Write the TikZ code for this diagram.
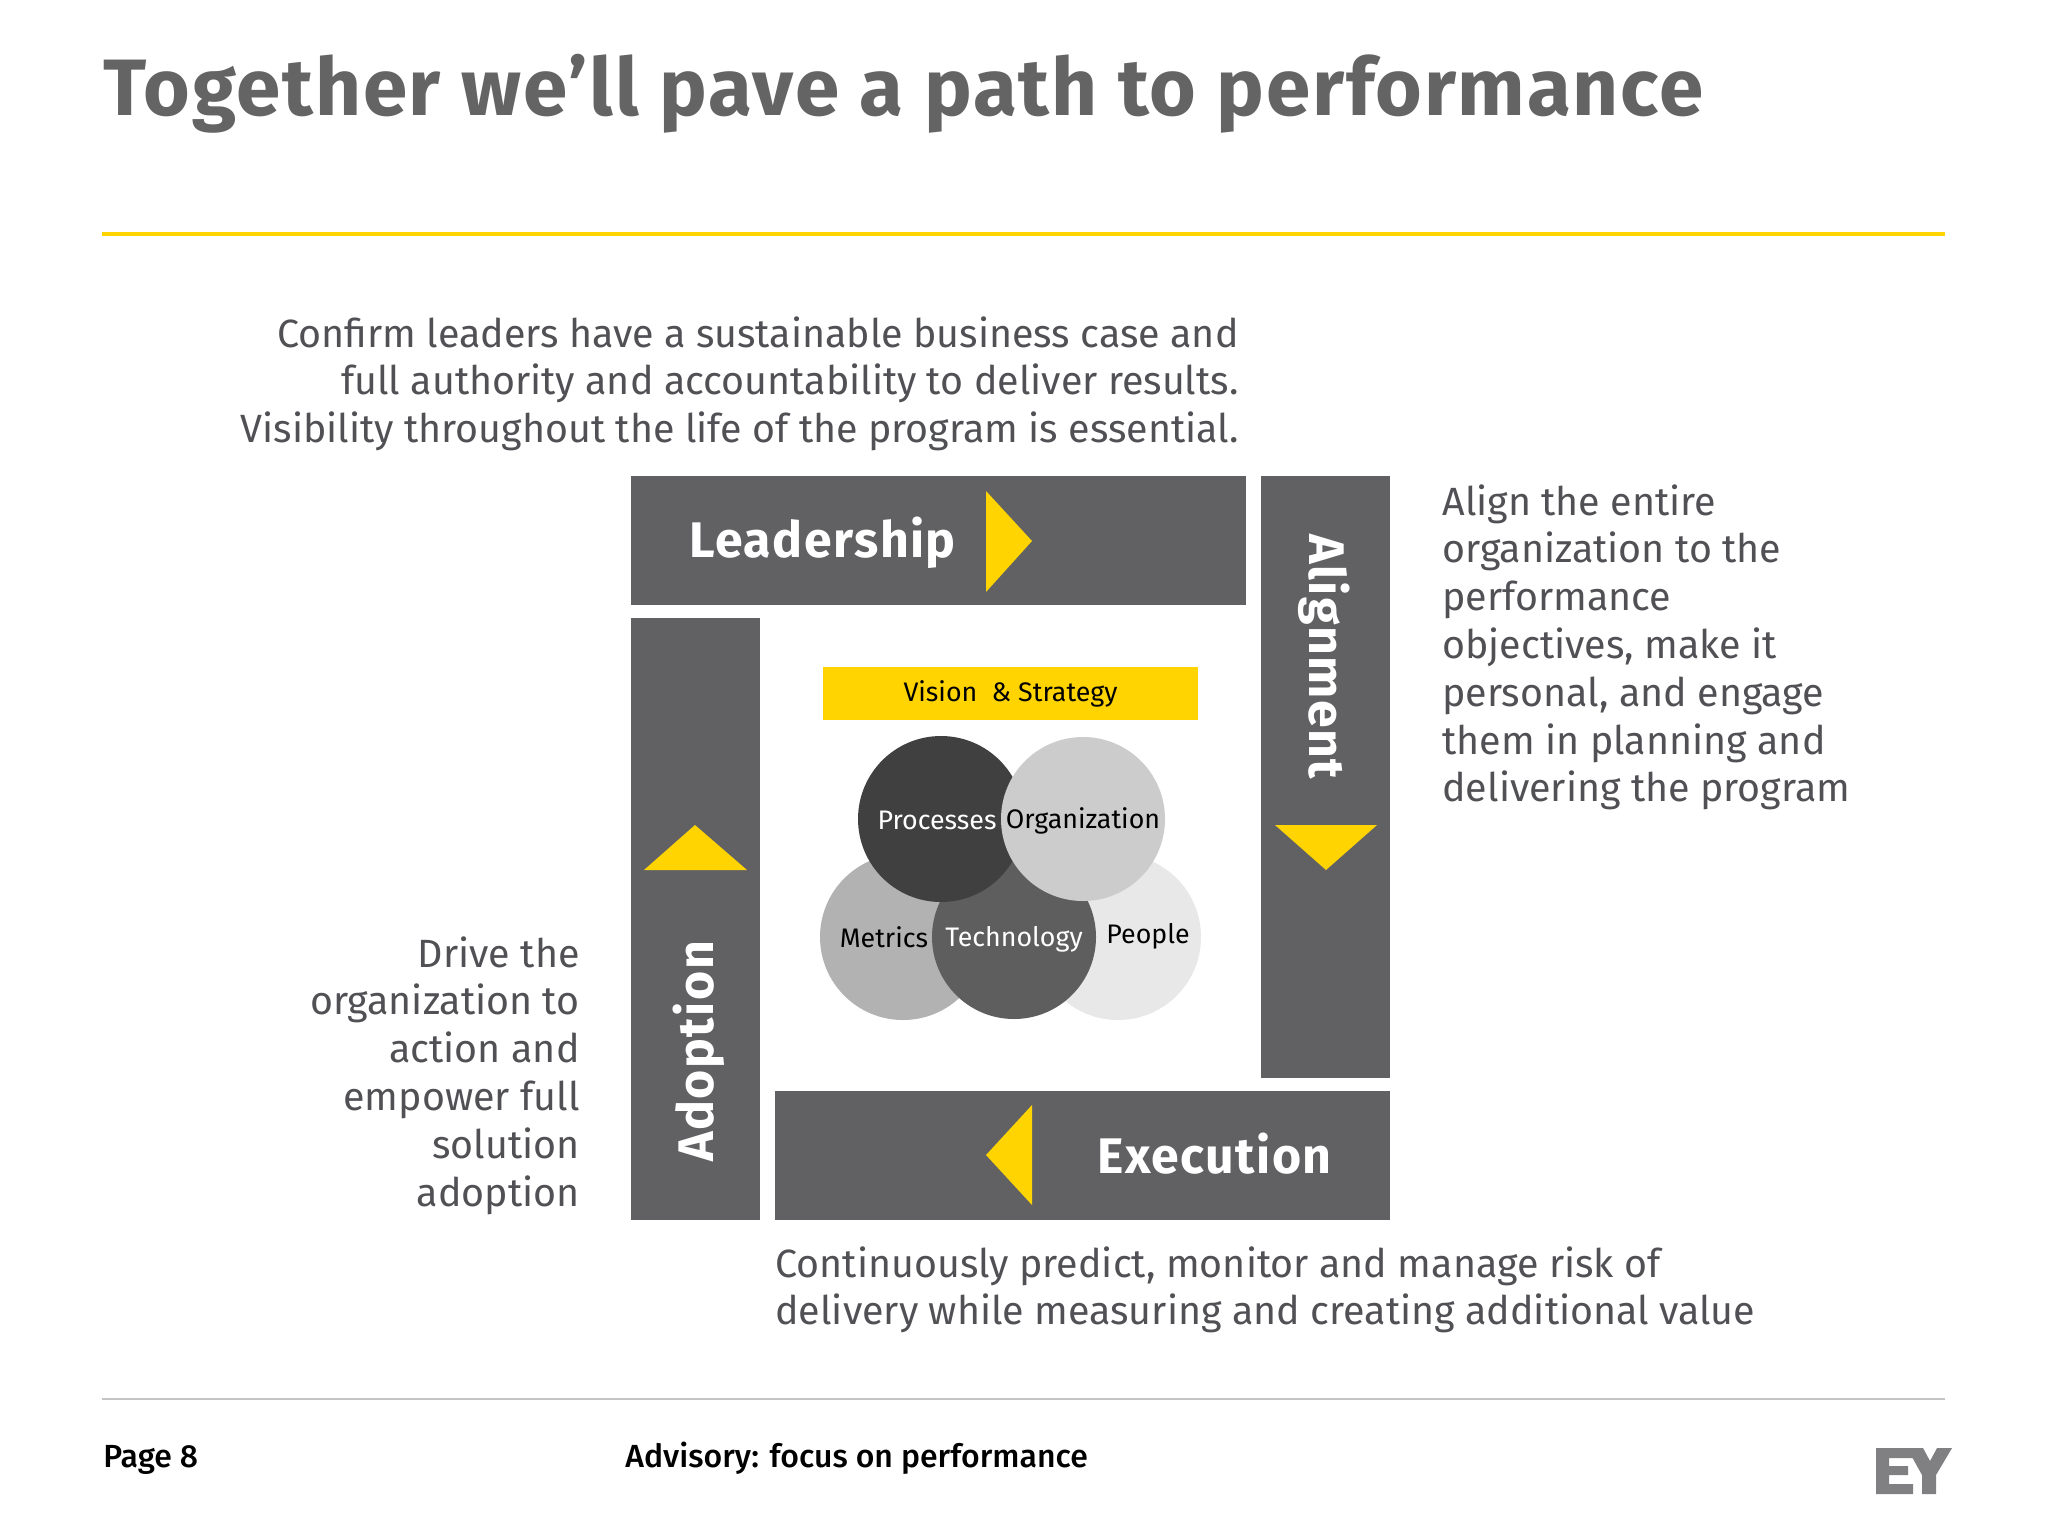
\documentclass[tikz,border=0pt]{standalone}
\usepackage{fontspec}
\setmainfont{Fira Sans}
\newfontfamily\medf{Fira Sans Medium}
\definecolor{eygray}{HTML}{616164}
\definecolor{eyyellow}{HTML}{FFD400}
\definecolor{titlegray}{HTML}{646464}
\definecolor{bodygray}{HTML}{505055}
\definecolor{rulegray}{HTML}{C4C4C4}
\definecolor{logogray}{HTML}{808083}
\tikzset{
  px/.style={x=0.5pt,y=-0.5pt},
  band/.style={fill=eygray,draw=none},
  bandlabel/.style={text=white,inner sep=0pt,font=\fontsize{25}{30}\selectfont\bfseries\addfontfeatures{LetterSpace=3}},
  pointer/.style={fill=eyyellow,draw=none},
  para/.style={text=bodygray,inner sep=0pt,font=\fontsize{19.7}{23.9}\selectfont},
  venn/.style={circle,draw=none,inner sep=0pt},
  vennlabel/.style={inner sep=0pt,font=\fontsize{13.4}{16}\selectfont},
  footer/.style={text=black,inner sep=0pt,font=\medf\fontsize{16}{18}\selectfont,anchor=base west}
}
\begin{document}
\begin{tikzpicture}[px]
\useasboundingbox (0,0) rectangle (2048,1536);
\fill[white] (0,0) rectangle (2048,1536);
\node[anchor=base west,inner sep=0pt,text=titlegray,font=\fontsize{40}{48}\selectfont\bfseries\addfontfeatures{LetterSpace=2.2}] (title) at (103,115) {Together we’ll pave a path to performance};
\coordinate (ruleL) at (102,233.5); \coordinate (ruleR) at (1945,233.5);
\draw[eyyellow,line width=2pt] (ruleL) -- (ruleR);
\node[para,align=right,anchor=north east] (ptop) at (1239,316) {Confirm leaders have a sustainable business case and\\full authority and accountability to deliver results.\\Visibility throughout the life of the program is essential.};
\node[para,align=left,anchor=north west] (pright) at (1442,484) {Align the entire\\organization to the\\performance\\objectives, make it\\personal, and engage\\them in planning and\\delivering the program};
\node[para,align=right,anchor=north east] (pleft) at (580,936) {Drive the\\organization to\\action and\\empower full\\solution\\adoption};
\node[para,align=left,anchor=north west] (pbottom) at (775,1246) {Continuously predict, monitor and manage risk of\\delivery while measuring and creating additional value};
\fill[band] (631,476) rectangle (1246,605);
\fill[band] (1261,476) rectangle (1390,1078);
\fill[band] (631,618) rectangle (760,1220);
\fill[band] (775,1091) rectangle (1390,1220);
\node[bandlabel,anchor=west] (lead) at (689,543) {Leadership};
\node[bandlabel,anchor=east] (exec) at (1332,1154) {Execution};
\node[bandlabel,rotate=-90,anchor=west] (align) at (1324,534) {Alignment};
\node[bandlabel,rotate=90,anchor=west] (adopt) at (699,1162) {Adoption};
\fill[pointer] (986,491) -- (1032,541) -- (986,592) -- cycle;
\fill[pointer] (1275,825) -- (1377,825) -- (1326,870) -- cycle;
\fill[pointer] (644,870) -- (747,870) -- (695,825) -- cycle;
\fill[pointer] (1032,1105) -- (986,1155) -- (1032,1205) -- cycle;
\node[fill=eyyellow,minimum width=187.5pt,minimum height=26.5pt,inner sep=0pt,text=black,font=\fontsize{13.4}{16}\selectfont] (vision) at (1010.5,693.5) {\raisebox{-1pt}{Vision\ \ \& Strategy}};
\node[venn,minimum size=83pt,fill=black!30] (m) at (903,937) {};
\node[venn,minimum size=83pt,fill=black!9] (pe) at (1118,937) {};
\node[venn,minimum size=82pt,fill=black!63] (t) at (1014,937) {};
\node[venn,minimum size=83pt,fill=black!75] (pr) at (941,819) {};
\node[venn,minimum size=82pt,fill=black!20] (o) at (1083,819) {};
\node[vennlabel,text=white] (prl) at (937,820) {Processes};
\node[vennlabel,text=black] (ol) at (1083,821) {Organization};
\node[vennlabel,text=black] (ml) at (884,937) {Metrics};
\node[vennlabel,text=white] (tl) at (1014,939) {Technology};
\node[vennlabel,text=black] (pl) at (1148,936) {People};
\coordinate (footL) at (102,1399); \coordinate (footR) at (1945,1399);
\draw[rulegray,line width=0.8pt] (footL) -- (footR);
\node[footer] (page) at (103,1467) {Page 8};
\node[footer] (adv) at (625,1467) {Advisory: focus on performance};
\fill[logogray] (1876,1448) -- (1913,1448) -- (1916,1458) -- (1889,1458) -- (1889,1466) -- (1908,1466) -- (1908,1475) -- (1889,1475) -- (1889,1484) -- (1913,1484) -- (1913,1494) -- (1876,1494) -- cycle;
\fill[logogray] (1907,1448) -- (1923,1448) -- (1930,1461) -- (1937,1448) -- (1952,1448) -- (1936,1475) -- (1936,1494) -- (1922,1494) -- (1922,1475) -- cycle;
\end{tikzpicture}
\end{document}
